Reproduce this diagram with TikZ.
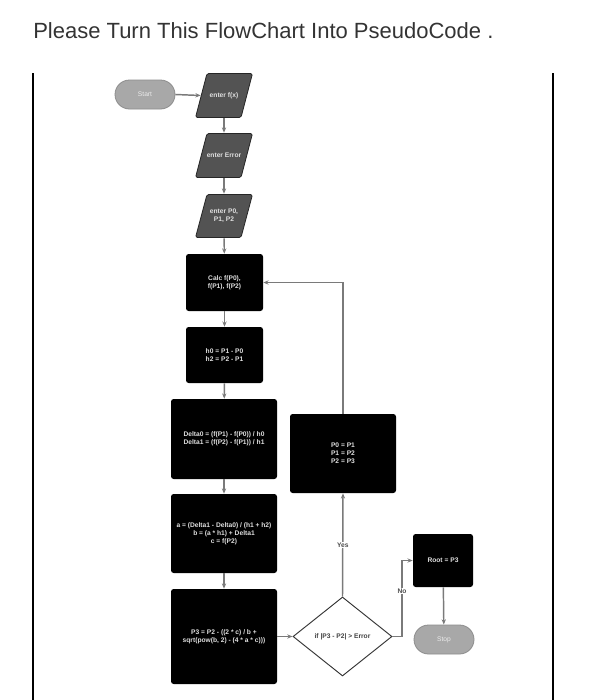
\documentclass[tikz,border=0pt]{standalone}
\usepackage{fontspec}
\setmainfont{Liberation Sans}
\usetikzlibrary{shapes.geometric,arrows.meta}
\definecolor{linegray}{HTML}{7A7A7A}
\definecolor{termfill}{HTML}{A8A8A8}
\definecolor{termdraw}{HTML}{8C8C8C}
\definecolor{iofill}{HTML}{535353}
\definecolor{titlecol}{HTML}{333333}
\def\u{0.75pt}
\tikzset{
  boxtext/.style={font=\fontsize{5}{6}\selectfont\bfseries, text=white!88!black, align=center},
  terminal/.style={shape=rectangle, rounded corners=14.5*\u, fill=termfill, draw=termdraw, line width=0.6pt, minimum width=60*\u, minimum height=29*\u, inner sep=0pt, font=\fontsize{5}{6}\selectfont, text=white!92!black},
  iobox/.style={boxtext, rectangle, minimum width=58*\u, minimum height=45*\u, inner sep=0pt,
    path picture={\filldraw[fill=iofill, draw=black!85, line width=0.6pt, rounded corners=1.2pt]
      ([shift={(12*\u,-0.4pt)}]path picture bounding box.north west) --
      ([shift={(-0.4pt,-0.4pt)}]path picture bounding box.north east) --
      ([shift={(-12*\u,0.4pt)}]path picture bounding box.south east) --
      ([shift={(0.4pt,0.4pt)}]path picture bounding box.south west) -- cycle;}},
  procbox/.style={boxtext, rectangle, fill=black, rounded corners=2pt, inner sep=0pt},
  decbox/.style={diamond, draw=black!80, fill=white, line width=0.7pt, minimum width=99*\u, minimum height=79*\u, aspect=1.25, inner sep=0pt, font=\fontsize{5}{6}\selectfont\bfseries, text=black!75},
  conn/.style={draw=linegray, line width=1.1pt, -{Stealth[length=4pt,width=3.2pt]}},
  lbl/.style={font=\fontsize{5}{6}\selectfont\bfseries, text=black!70, fill=white, inner sep=0.8pt}
}
\begin{document}
\begin{tikzpicture}[x=0.75pt,y=-0.75pt]
\useasboundingbox (0,0) rectangle (589,700);
\node[anchor=base west, font=\fontsize{16.5}{18}\selectfont, text=titlecol, inner sep=0pt] (title) at (33,38) {Please Turn This FlowChart Into PseudoCode .};
\draw[line width=1.6pt] (33,73) -- (33,700);
\draw[line width=1.6pt] (553,73) -- (553,700);

\node[terminal] (start) at (145,94.5) {Start};
\node[iobox] (fx) at (224,95.5) {enter f(x)};
\node[iobox] (err) at (224,155.5) {enter Error};
\node[iobox, minimum height=44*\u] (pin) at (224,216) {enter P0,\\P1, P2};
\node[procbox, minimum width=77*\u, minimum height=57*\u] (calc) at (224.5,282.5) {Calc f(P0),\\f(P1), f(P2)};
\node[procbox, minimum width=77*\u, minimum height=56*\u] (hbox) at (224.5,355) {h0 = P1 - P0\\h2 = P2 - P1};
\node[procbox, minimum width=106*\u, minimum height=80*\u] (delta) at (224,439) {Delta0 = (f(P1) - f(P0)) / h0\\Delta1 = (f(P2) - f(P1)) / h1};
\node[procbox, minimum width=106*\u, minimum height=79*\u] (abox) at (224,533.5) {a = (Delta1 - Delta0) / (h1 + h2)\\b = (a * h1) + Delta1\\c = f(P2)};
\node[procbox, minimum width=106*\u, minimum height=95*\u] (p3) at (224,636.5) {P3 = P2 - ((2 * c) / b +\\sqrt(pow(b, 2) - (4 * a * c)))};
\node[decbox] (dia) at (342.5,636.5) {if |P3 - P2| > Error};
\node[procbox, minimum width=106*\u, minimum height=79*\u] (po) at (343,453.5) {P0 = P1\\P1 = P2\\P2 = P3};
\node[procbox, minimum width=60*\u, minimum height=53*\u] (root) at (443,560.5) {Root = P3};
\node[terminal] (stop) at (444,639.5) {Stop};
\coordinate (noturn) at (402,636.5);

\draw[conn] (start.east) -- ([xshift=6*\u]fx.west);
\draw[conn] (fx) -- (err);
\draw[conn] (err) -- (pin);
\draw[conn] (pin) -- (calc);
\draw[conn] (calc) -- (hbox);
\draw[conn] (hbox) -- (delta);
\draw[conn] (delta) -- (abox);
\draw[conn] (abox) -- (p3);
\draw[conn] (p3) -- (dia);
\draw[conn] (dia.north) -- node[lbl, pos=0.5] (yes) {Yes} (po.south);
\draw[conn] (po.north) |- (calc.east);
\draw[conn] (dia.east) -- (noturn) |- node[lbl, pos=0.3] (no) {No} (root.west);
\draw[conn] (root) -- (stop);
\end{tikzpicture}
\end{document}
